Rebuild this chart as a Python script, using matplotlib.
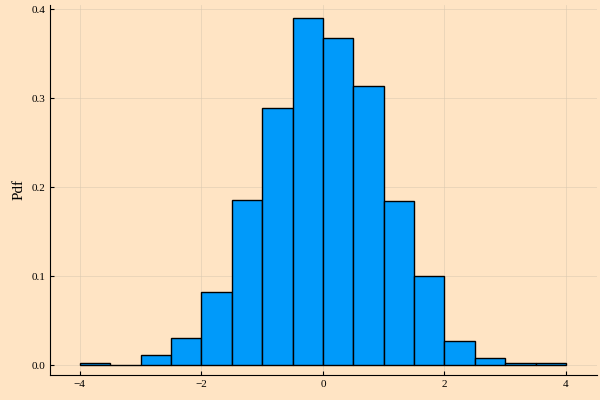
import numpy as np
import matplotlib
matplotlib.use("Agg")
import matplotlib.pyplot as plt

plt.rcParams['font.family'] = ['Liberation Serif', 'DejaVu Serif']

edges = np.arange(-4.0, 4.01, 0.5)
pdf = [0.002, 0.0, 0.011, 0.031, 0.082, 0.186, 0.289, 0.390,
       0.367, 0.314, 0.184, 0.100, 0.027, 0.008, 0.002, 0.002]

bg = '#FFE4C4'
fig = plt.figure(figsize=(6, 4), dpi=100, facecolor=bg)
ax = fig.add_axes([50/600, 25/400, 547/600, 370/400], facecolor=bg)

ax.bar(edges[:-1], pdf, width=0.5, align='edge', color='#009AFA',
       edgecolor='black', linewidth=1.0, zorder=3)

ax.set_xlim(-4.49, 4.51)
ax.set_ylim(-0.011, 0.4045)
ax.set_xticks([-4, -2, 0, 2, 4])
ax.set_yticks([0.0, 0.1, 0.2, 0.3, 0.4])
ax.set_yticklabels(['0.0', '0.1', '0.2', '0.3', '0.4'])
ax.set_ylabel('Pdf', fontsize=11)
ax.tick_params(labelsize=8, direction='in', length=3)
ax.grid(True, color='#d8c8b0', linewidth=0.6, alpha=0.6, zorder=0)
for s in ['top', 'right']:
    ax.spines[s].set_visible(False)

fig.savefig('out.png', dpi=100, facecolor=bg)
